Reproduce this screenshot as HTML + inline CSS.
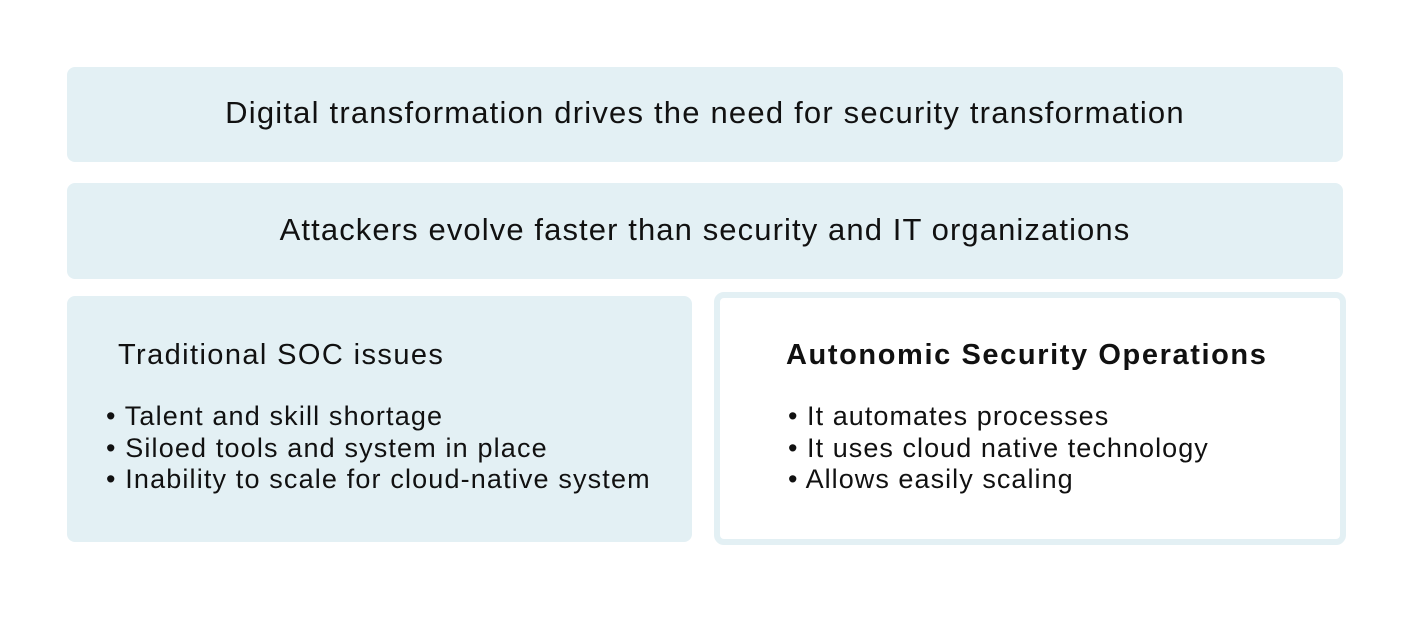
<!DOCTYPE html>
<html><head><style>
body{margin:0;width:1410px;height:618px;background:#fff;font-family:"Liberation Sans",sans-serif;color:#111;position:relative;overflow:hidden}
.b{position:absolute;background:#e3f0f4;border-radius:8px;box-sizing:border-box}
.c{display:flex;align-items:center;justify-content:center;font-size:31px}
.t{position:absolute;font-size:29px;white-space:nowrap}
.l{position:absolute;font-size:27px;line-height:31.5px;white-space:nowrap;letter-spacing:1.15px}
</style></head><body>
<div class="b c" style="left:67px;top:67px;width:1276px;height:95px;letter-spacing:1.2px;padding-bottom:4px">Digital transformation drives the need for security transformation</div>
<div class="b c" style="left:67px;top:183px;width:1276px;height:96px;letter-spacing:1.1px;padding-bottom:2px">Attackers evolve faster than security and IT organizations</div>
<div class="b" style="left:67px;top:296px;width:625px;height:246px"></div>
<div class="b" style="left:714px;top:292px;width:632px;height:253px;background:#fff;border:6px solid #e3f0f4;border-radius:10px"></div>
<div class="t" style="left:118px;top:339px;letter-spacing:1.4px">Traditional SOC issues</div>
<div class="l" style="left:106px;top:401px">• Talent and skill shortage<br>• Siloed tools and system in place<br>• Inability to scale for cloud-native system</div>
<div class="t" style="left:786px;top:339px;font-weight:bold;letter-spacing:1.6px">Autonomic Security Operations</div>
<div class="l" style="left:788px;top:401px;letter-spacing:1.05px">• It automates processes<br>• It uses cloud native technology<br>• Allows easily scaling</div>
</body></html>
